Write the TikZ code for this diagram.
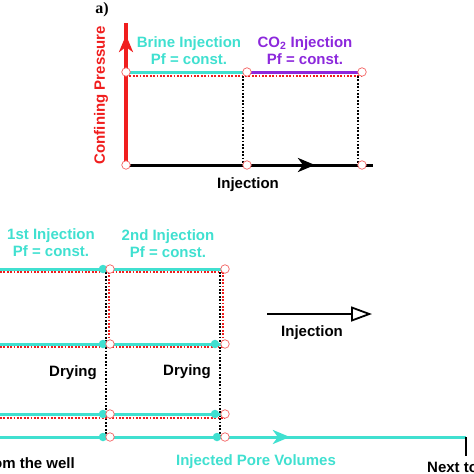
\documentclass[tikz,border=0pt]{standalone}
\usepackage{fontspec}
\setmainfont{Liberation Sans}
\newfontfamily\serifbf{Liberation Serif}
\usetikzlibrary{arrows.meta,decorations.markings}
\definecolor{cyanx}{RGB}{64,224,208}
\definecolor{purplex}{RGB}{140,40,220}
\definecolor{redx}{RGB}{240,30,30}
\tikzset{
  lbl/.style={font=\fontsize{15}{17}\selectfont\bfseries, inner sep=0pt, align=center},
  opendot/.style={circle, draw=redx!70, fill=white, line width=0.7pt, minimum size=8.5pt, inner sep=0pt},
  filldot/.style={circle, fill=cyanx, minimum size=8.5pt, inner sep=0pt},
  cline/.style={draw=cyanx, line width=3pt},
  pline/.style={draw=purplex, line width=3pt},
  rdot/.style={draw=redx, line width=2.4pt, dash pattern=on 1.7pt off 1.7pt},
  kdot/.style={draw=black, line width=2.4pt, dash pattern=on 1.7pt off 1.7pt},
  midarrow/.style 2 args={postaction={decorate}, decoration={markings, mark=at position #1 with {\arrow[#2]{Stealth[length=17pt,width=14pt,inset=5pt]}}}},
}
\begin{document}
\begin{tikzpicture}[x=1pt,y=-1pt]
\useasboundingbox (0,0) rectangle (474,474);
\clip (0,0) rectangle (474,474);
% ---------- panel a ----------
\node[font=\serifbf\fontsize{16}{18}\selectfont\bfseries, inner sep=0pt] (la) at (102,10) {a)};
\coordinate (o) at (126,165);
\coordinate (ytop) at (126,23);
\coordinate (xend) at (373,165);
% lines
\draw[rdot] (126,76) -- (362,76);
\draw[kdot] (243,76) -- (243,165);
\draw[kdot] (358,76) -- (358,165);
\draw[line width=3pt, black, midarrow={0.765}{black}] (o) -- (xend);
\draw[line width=3.2pt, redx, midarrow={0.915}{redx}] (o) -- (ytop);
\draw[cline] (126,72) -- (247,72);
\draw[pline] (247,72) -- (362,72);
\node[opendot] (a1) at (126,72) {};
\node[opendot] (a2) at (247,72) {};
\node[opendot] (a3) at (362,72) {};
\node[opendot] (a4) at (126,165) {};
\node[opendot] (a5) at (247,165) {};
\node[opendot] (a6) at (362,165) {};
\node[lbl, text=cyanx] (brine) at (189,50.5) {Brine Injection\\Pf = const.};
\node[lbl, text=purplex] (co2) at (305,50.5) {CO\textsubscript{2} Injection\\Pf = const.};
\node[lbl, rotate=90, text=redx] (conf) at (101,95) {Confining Pressure};
\node[lbl] (inja) at (248,185) {Injection};
% ---------- panel b ----------
% red dotted
\draw[rdot] (0,272) -- (225,272);
\draw[rdot] (0,347) -- (225,347);
\draw[rdot] (0,418) -- (225,418);
\draw[rdot] (109,272) -- (109,347);
\draw[rdot] (223,272) -- (223,347);
% black dotted
\draw[kdot] (106,269) -- (106,437);
\draw[kdot] (220,272) -- (220,437);
% cyan lines
\draw[cline] (0,269) -- (103,269);
\draw[cline] (110,269) -- (225,269);
\draw[cline] (0,344) -- (103,344);
\draw[cline] (110,344) -- (225,344);
\draw[cline] (0,414) -- (103,414);
\draw[cline] (110,414) -- (225,414);
\coordinate (b0) at (0,437);
\coordinate (bend) at (466,437);
\draw[cline, midarrow={0.622}{cyanx}] (b0) -- (bend);
\coordinate (tk) at (466,456);
\draw[black, line width=2.2pt] (bend) -- (tk);
% dots
\node[filldot] (f1) at (103,269) {};
\node[opendot] (o1) at (110,269) {};
\node[opendot] (o2) at (225,269) {};
\node[filldot] (f2) at (103,344) {};
\node[opendot] (o3) at (110,344) {};
\node[filldot] (f3) at (215,344) {};
\node[opendot] (o4) at (225,344) {};
\node[filldot] (f4) at (103,414) {};
\node[opendot] (o5) at (110,414) {};
\node[filldot] (f5) at (215,414) {};
\node[opendot] (o6) at (225,414) {};
\node[filldot] (f6) at (103,437) {};
\node[opendot] (o7) at (110,437) {};
\node[filldot] (f7) at (217,437) {};
\node[opendot] (o8) at (225,437) {};
% labels
\node[lbl, text=cyanx] (first) at (51,242.5) {1st Injection\\Pf = const.};
\node[lbl, text=cyanx] (second) at (168,244) {2nd Injection\\Pf = const.};
\node[lbl] (dry1) at (73,373) {Drying};
\node[lbl] (dry2) at (187,372) {Drying};
\node[lbl, text=cyanx] (ipv) at (256,462) {Injected Pore Volumes};
\node[lbl, anchor=east] (far) at (75,463) {from the well};
\node[lbl, anchor=west] (next) at (427,467) {Next to the well};
% injection arrow
\coordinate (ia) at (267,314);
\coordinate (ib) at (372,314);
\draw[black, line width=1.8pt, -{Triangle[open, length=21pt, width=15pt, line width=1.8pt]}] (ia) -- (ib);
\node[lbl] (injb) at (312,333) {Injection};
\end{tikzpicture}
\end{document}
